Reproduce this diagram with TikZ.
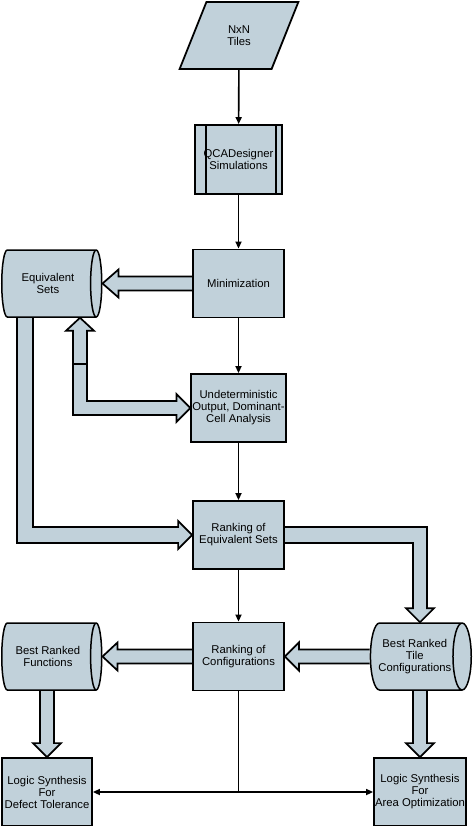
\documentclass[tikz,border=0pt]{standalone}
\usepackage{fontspec}
\setmainfont{Liberation Sans}
\usetikzlibrary{shapes.geometric,arrows.meta,calc,backgrounds}
\definecolor{boxfill}{RGB}{193,209,218}

\begin{document}
\begin{tikzpicture}[x=1pt, y=-1pt,
  every node/.style={font=\fontsize{11.3}{12}\selectfont, align=center},
  box/.style={shape=rectangle, draw, line width=1.8pt, fill=boxfill, minimum width=91pt, minimum height=68pt, inner sep=1pt},
  store/.style={shape=cylinder, draw, line width=1.5pt, fill=boxfill, aspect=0.5, minimum height=100pt, minimum width=67pt, inner sep=1pt},
  link/.style={-{Triangle[length=7pt,width=6pt]}, line width=1.6pt},
  fat/.style={draw, line width=1.7pt, fill=boxfill, line join=miter}]
\useasboundingbox (0,0) rectangle (474,826);

\node[shape=trapezium, trapezium left angle=65, trapezium right angle=115, trapezium stretches=true, draw, line width=1.8pt, fill=boxfill, minimum width=119pt, minimum height=67pt] (Tiles) at (239,35.5) {NxN\\Tiles};
\node[box, minimum width=87pt, minimum height=69pt] (QCA) at (238.5,159.5) {QCADesigner\\Simulations};
\node[box] (Min) at (238.5,283.5) {Minimization};
\node[box] (Undet) at (238.5,408) {Undeterministic\\Output, Dominant-\\Cell Analysis};
\node[box] (RankEq) at (238.5,535) {Ranking of\\Equivalent Sets};
\node[box] (RankCfg) at (238.5,656.5) {Ranking of\\Configurations};
\node[box, minimum width=90pt] (Defect) at (47,792) {Logic Synthesis\\For\\Defect Tolerance};
\node[box, minimum width=92pt] (AreaOpt) at (420,792) {Logic Synthesis\\For\\Area Optimization};
\node[store, anchor=west] (EqSets) at (1,283.5) {Equivalent\\Sets};
\node[store, anchor=west] (BestFn) at (1,656.5) {Best Ranked\\Functions};
\node[store, anchor=east, minimum height=97pt] (TileCfg) at (472,656.5) {Best Ranked\\Tile\\Configurations};

\draw[line width=1.4pt] ($(QCA.north west)+(12,0)$) -- ($(QCA.south west)+(12,0)$);
\draw[line width=1.4pt] ($(QCA.north east)+(-7,0)$) -- ($(QCA.south east)+(-7,0)$);

\draw[link] (Tiles) -- (QCA);
\draw[link] (QCA) -- (Min);
\draw[link] (Min) -- (Undet);
\draw[link] (Undet) -- (RankEq);
\draw[link] (RankEq) -- (RankCfg);
\draw[line width=1.6pt] (RankCfg.south) -- (RankCfg.south |- Defect.east) coordinate (fork);
\draw[link] (fork) -- (Defect.east);
\draw[link] (fork) -- (AreaOpt.west);

\coordinate (eqA) at ($(EqSets.south -| EqSets.west)+(24,0)$);
\coordinate (eqB) at ($(EqSets.south -| EqSets.west)+(79,0)$);
\coordinate (tcIn) at (AreaOpt.north |- TileCfg.north);
\coordinate (tcOut) at (AreaOpt.north |- TileCfg.south);
\coordinate (fnOut) at (Defect.north |- BestFn.south);

\begin{scope}[on background layer]
\draw[fat] ($(Min.west)+(0,-7)$) -- ($(EqSets.east)+(16,-7)$) -- ++(0,-7) -- (EqSets.east) -- ++(16,14) -- ++(0,-7) -- ($(Min.west)+(0,7)$);
\draw[fat] (eqB) -- ++(-14,13) -- ++(7,0) |- ($(Undet.west)+(-14,7)$) -- ++(0,7) -- (Undet.west) -- ++(-14,-14) -- ++(0,7) -| ($(eqB)+(7,13)$) -- ++(7,0) -- cycle;
\draw[line width=1.7pt] ($(eqB)+(-7,46)$) -- ++(14,0);
\draw[fat] ($(eqA)+(-8,0)$) |- ($(RankEq.west)+(-14,8)$) -- ++(0,6) -- (RankEq.west) -- ++(-14,-14) -- ++(0,6) -| ($(eqA)+(8,0)$);
\draw[fat] ($(RankEq.east)+(0,-8)$) -| ($(tcIn)+(7,-14)$) -- ++(7,0) -- (tcIn) -- ++(-14,-14) -- ++(7,0) |- ($(RankEq.east)+(0,8)$);
\draw[fat] ($(TileCfg.west)+(0,-7)$) -- ($(RankCfg.east)+(14,-7)$) -- ++(0,-7) -- (RankCfg.east) -- ++(14,14) -- ++(0,-7) -- ($(TileCfg.west)+(0,7)$);
\draw[fat] ($(RankCfg.west)+(0,-7)$) -- ($(BestFn.east)+(15,-7)$) -- ++(0,-7) -- (BestFn.east) -- ++(15,14) -- ++(0,-7) -- ($(RankCfg.west)+(0,7)$);
\draw[fat] ($(fnOut)+(-7,0)$) -- ($(Defect.north)+(-7,-14)$) -- ++(-7,0) -- (Defect.north) -- ++(14,-14) -- ++(-7,0) -- ($(fnOut)+(7,0)$);
\draw[fat] ($(tcOut)+(-7,0)$) -- ($(AreaOpt.north)+(-7,-14)$) -- ++(-7,0) -- (AreaOpt.north) -- ++(14,-14) -- ++(-7,0) -- ($(tcOut)+(7,0)$);
\end{scope}
\end{tikzpicture}
\end{document}
